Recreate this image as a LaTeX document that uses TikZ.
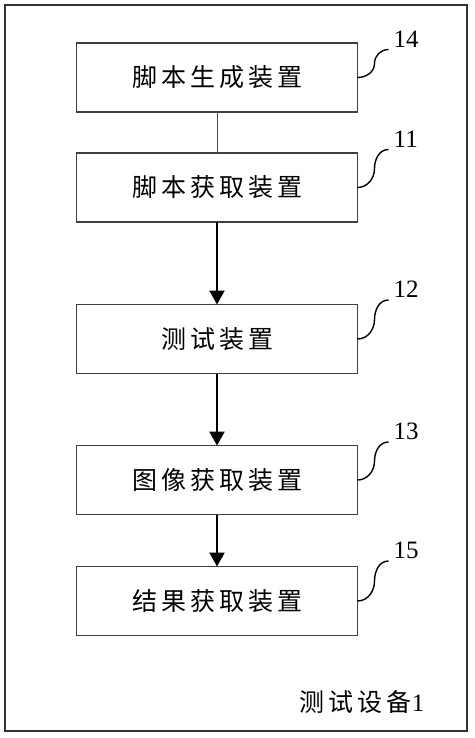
\documentclass[tikz,border=0pt]{standalone}
\usepackage{fontspec}
\usepackage{tikz}
\usetikzlibrary{arrows.meta,positioning}
\newfontfamily\cjk[LetterSpace=16]{Noto Sans CJK SC}
\newfontfamily\numfont{Liberation Serif}
\tikzstyle{unit}  =[draw=black!75, line width=1.2pt, minimum width=281pt,
                    minimum height=69pt, inner sep=0pt, outer sep=0pt,
                    font=\cjk\fontsize{25pt}{28pt}\selectfont]
\tikzstyle{flow}  =[line width=2.6pt, -{Triangle[width=15pt,length=14pt]}]
\tikzstyle{link}  =[line width=0.8pt, black!70]
\tikzstyle{leader}=[line width=1.4pt]
\tikzstyle{num}   =[inner sep=2pt, font=\numfont\fontsize{25pt}{28pt}\selectfont]

\begin{document}
\begin{tikzpicture}[x=1pt, y=1pt, node distance=110pt, on grid]
                \useasboundingbox (0,0) rectangle (474,-738);
                % outer frame of the device
                \draw[black!80, line width=1.5pt] (5,-5) rectangle (467,-731);

                \node[unit] (b14) at (217,-77.5) {脚本生成装置};
                \node[unit] (b11) [below=110pt of b14] {脚本获取装置};
                \node[unit] (b12) [below=151.5pt of b11] {测试装置};
                \node[unit] (b13) [below=141pt of b12] {图像获取装置};
                \node[unit] (b15) [below=121pt of b13] {结果获取装置};

                \draw[link] (b14) to (b11);
                \draw[flow] (b11) to (b12);
                \draw[flow] (b12) to (b13);
                \draw[flow] (b13) to (b15);

                % reference numerals
                \foreach \b/\r in {14/28, 11/38, 12/39, 13/38, 15/40} {
                    \draw[leader] (b\b.east) to[out=0, in=-90] ++(17,\r/2)
                        to[out=90, in=180] ++(14,\r/2) coordinate (t\b);
                    \node[num, anchor=south west] (n\b) at ([xshift=3pt]t\b) {\b};
                }

                \node[inner sep=0pt, font=\cjk\fontsize{25pt}{28pt}\selectfont]
                    (dev) at (362,-702) {测试设备{\numfont 1}};
        \end{tikzpicture}
\end{document}
